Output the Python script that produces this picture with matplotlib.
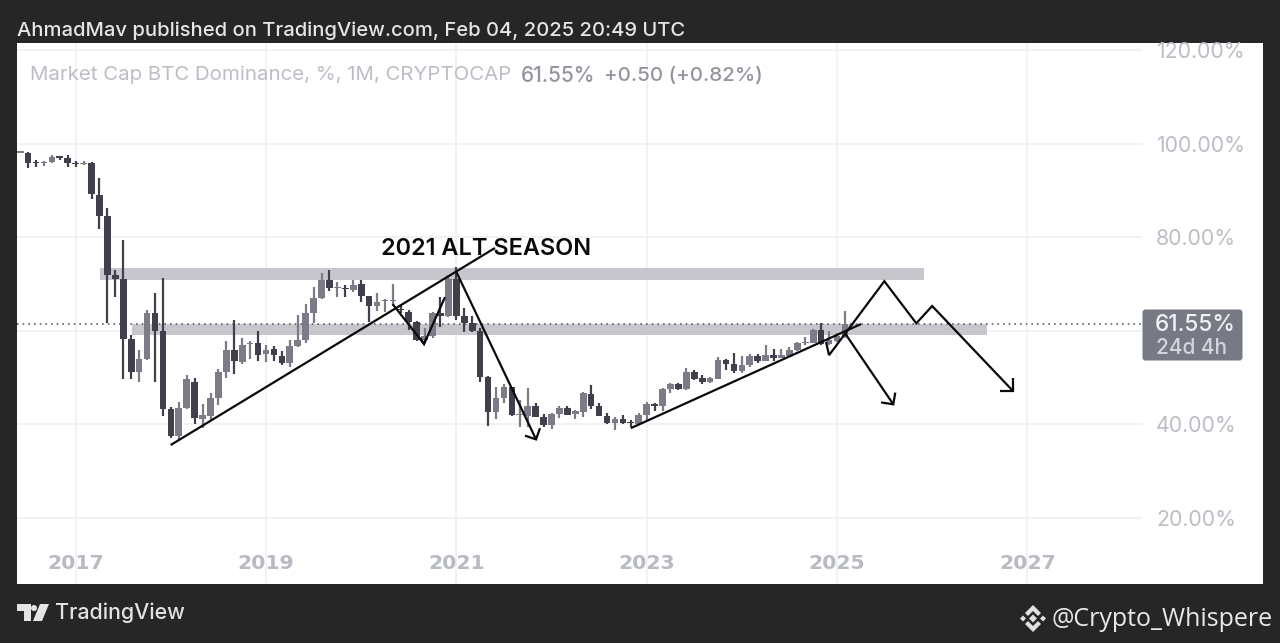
import matplotlib
matplotlib.use("Agg")
import matplotlib.pyplot as plt
import numpy as np
from matplotlib.patches import FancyBboxPatch, Polygon, Rectangle

# Months since Jan 2017
months = list(range(-7, 98))
opens = [98.1,98.1,96.0,95.8,96.1,97.3,97.0,
 95.8,95.6,95.9,89.1,84.5,71.9,71.1,58.3,51.3,53.9,63.8,59.9,
 43.3,37.6,43.6,49.0,41.2,41.9,45.6,51.3,56.0,53.3,57.2,57.5,
 55.0,56.2,54.6,53.2,56.7,58.0,63.9,67.1,70.9,69.2,69.2,68.7,
 70.0,67.4,65.2,66.4,66.3,64.7,64.1,61.9,58.0,58.9,63.9,63.2,
 71.1,63.1,61.6,60.0,50.1,42.7,45.6,47.9,42.0,41.8,44.0,41.6,
 39.9,42.2,43.6,42.2,42.7,46.6,43.9,41.9,40.2,41.1,40.5,40.1,
 42.1,44.4,43.9,47.6,48.6,47.6,51.2,49.9,49.1,49.8,53.8,53.0,
 51.5,52.6,54.6,53.6,54.8,54.2,54.7,55.8,57.3,57.5,60.2,57.2,
 57.9,58.7]
closes = [98.3,95.9,95.8,96.1,97.1,97.0,95.8,
 95.7,95.8,89.3,84.5,72.0,71.1,58.3,51.3,53.9,63.8,59.9,43.2,
 37.6,43.6,49.6,41.3,42.0,45.6,51.3,56.0,53.6,57.0,57.5,54.8,
 56.0,54.8,53.2,56.7,58.0,63.8,67.0,70.9,69.1,69.4,68.9,69.8,
 67.4,65.4,66.2,66.6,66.4,64.4,61.9,58.0,58.9,63.9,63.2,71.1,
 63.2,61.6,60.0,50.2,42.7,45.6,47.9,42.0,42.2,44.0,41.6,39.9,
 42.2,43.6,42.1,42.8,46.8,43.9,41.9,40.2,41.1,40.4,40.3,42.1,
 44.4,43.9,47.6,48.6,47.6,51.1,49.8,49.1,49.9,53.8,53.0,51.5,
 52.6,54.6,53.6,54.8,54.2,54.8,55.9,57.4,57.7,60.2,57.2,58.0,
 58.9,61.55]
highs = [98.5,98.3,96.5,96.3,97.6,97.4,97.5,
 96.3,96.2,96.1,92.6,86.2,73.0,79.3,59.1,55.9,64.4,68.1,71.2,
 43.8,44.8,50.5,50.0,44.3,46.8,51.9,57.9,62.4,58.4,57.9,59.9,
 57.0,56.8,55.7,58.0,63.3,65.7,69.4,72.3,73.1,70.5,69.8,70.9,
 70.9,67.4,68.0,66.9,69.9,65.2,64.4,62.2,60.7,64.1,67.3,71.9,
 73.6,64.8,63.2,60.5,50.4,48.1,48.6,48.1,45.2,47.7,44.6,42.2,
 42.5,43.9,44.0,43.1,46.9,48.4,44.5,42.4,41.5,42.0,40.9,42.4,
 44.7,44.6,47.7,48.9,48.8,52.0,51.6,50.6,50.2,54.3,53.9,55.2,
 54.6,55.0,55.0,57.0,56.1,56.2,56.6,57.7,58.7,60.3,61.6,60.0,
 59.5,64.3]
lows = [98.0,94.7,95.1,95.2,95.8,96.5,95.1,
 94.9,95.4,88.2,81.7,61.6,67.3,49.8,49.6,49.1,53.8,49.0,41.9,
 37.0,36.7,43.4,40.0,39.3,40.9,44.1,50.0,50.8,53.0,53.9,53.5,
 53.3,53.5,52.8,52.3,56.6,57.3,61.7,66.9,68.6,67.3,67.3,68.2,
 66.1,61.9,64.2,64.0,65.2,63.7,60.2,57.9,57.3,58.4,60.9,62.9,
 62.4,59.7,59.8,49.1,39.7,41.2,44.6,41.9,39.5,39.5,41.5,39.5,
 39.1,41.3,42.0,41.2,41.5,43.2,41.9,40.0,38.8,40.1,39.4,39.9,
 40.9,42.9,42.9,46.8,47.3,47.3,49.5,48.6,48.9,49.8,51.6,50.9,
 50.9,52.3,53.1,53.5,53.6,54.1,54.5,55.7,57.0,57.3,57.0,57.0,
 57.7,58.5]
y_ticks = [20, 40, 60, 80, 100, 120]
y_labels = ["20.00%", "40.00%", "", "80.00%", "100.00%", "120.00%"]
year_ticks = [0, 24, 48, 72, 96, 120]
year_labels = ["2017", "2019", "2021", "2023", "2025", "2027"]
last_price = 61.55

# Hand-drawn annotations (month, percent)
zones = [(3.06, 107.0, 70.85, 73.4), (7.1, 114.9, 59.1, 61.45)]
strokes = [
    ([11.98, 52.87], [35.6, 77.7]),
    ([48.0, 58.05], [72.6, 36.8]),
    ([56.66, 58.05, 58.55], [37.6, 36.8, 39.2]),
    ([39.97, 43.92, 46.57], [65.7, 57.2, 67.2]),
    ([43.42, 43.92, 44.3], [58.5, 57.2, 58.7]),
    ([70.0, 99.03], [39.2, 61.45]),
    ([94.62, 95.0, 101.97, 106.0, 108.0, 118.16], [57.6, 54.8, 70.6, 61.6, 65.3, 47.2]),
    ([116.55, 118.16, 118.16], [47.2, 47.2, 49.9]),
    ([97.0, 103.1], [59.5, 44.3]),
    ([101.55, 103.1, 103.35], [44.7, 44.3, 46.8]),
]

DARK = "#262626"
UP = "#7c7c88"
DOWN = "#3f404c"
TXT = "#bcbec5"
plt.rcParams["font.family"] = ["Inter", "DejaVu Sans"]

W, H = 1280, 643
fig = plt.figure(figsize=(W / 100, H / 100), dpi=100, facecolor=DARK)
fig.patches.append(Rectangle((17 / W, 1 - 584 / H), (1263 - 17) / W, (584 - 43) / H,
                             transform=fig.transFigure, fc="white", ec="none", zorder=-5))

ax = fig.add_axes([17 / W, 1 - 584 / H, (1142 - 17) / W, (584 - 43) / H])
ax.set_facecolor("white")
ax.set_xlim(-7.40, 134.46)
ax.set_ylim(5.9, 121.5)
for s in ax.spines.values():
    s.set_visible(False)
ax.grid(True, color="#f0f0f3", lw=1.2, zorder=0)
ax.set_axisbelow(True)
ax.set_yticks(y_ticks, y_labels)
ax.set_xticks(year_ticks, year_labels)
ax.yaxis.tick_right()
ax.tick_params(axis="y", length=0, pad=10, labelsize=15.3, labelcolor=TXT)
ax.tick_params(axis="x", length=0, pad=-21.6)
for lab in ax.get_xticklabels():
    lab.set(fontsize=14.7, fontweight="bold", color="#b9bbc2", family="DejaVu Sans")

for x0, x1, y0, y1 in zones:
    ax.fill_between([x0, x1], y0, y1, color="#c6c6cc", lw=0, zorder=1)
ax.axhline(last_price, color="#5f616b", lw=1.2, ls=(0, (1, 2.4)), zorder=1.5)

colors = [UP if c >= o else DOWN for o, c in zip(opens, closes)]
ax.vlines(months, lows, highs, colors=colors, lw=1.6, zorder=2)
bottoms = [min(o, c) for o, c in zip(opens, closes)]
heights = [max(abs(c - o), 0.25) for o, c in zip(opens, closes)]
ax.bar(months, heights, bottom=bottoms, width=0.84, color=colors, lw=0, zorder=3)

for xs, ys in strokes:
    ax.plot(xs, ys, color="#0a0a0a", lw=1.6, zorder=4, solid_joinstyle="miter", solid_capstyle="butt")

ax.text(38.5, 77.5, "2021 ALT SEASON", fontsize=16.9, fontweight="semibold", color="#0a0a0a",
        va="center", ha="left", zorder=5)

# Overlay in pixel coordinates for chrome
ov = fig.add_axes([0, 0, 1, 1], facecolor="none")
ov.set_xlim(0, W)
ov.set_ylim(H, 0)
ov.axis("off")
ov.text(17, 30.5, "AhmadMav published on TradingView.com, Feb 04, 2025 20:49 UTC",
        fontsize=14.5, color="#e6e6e6", va="center", fontweight="medium")
ov.text(30, 75.5, "Market Cap BTC Dominance, %, 1M, CRYPTOCAP", fontsize=14.7, color="#bcbec5", va="center")
ov.text(521, 75.5, "61.55%", fontsize=15, color="#93959e", va="center", fontweight="medium")
ov.text(604, 75.5, "+0.50 (+0.82%)", fontsize=14.8, color="#93959e", va="center", fontweight="medium")

ov.add_patch(FancyBboxPatch((1144, 311), 97, 48, boxstyle="round,pad=1.5,rounding_size=3",
                            fc="#777985", ec="none"))
ov.text(1155, 325, "61.55%", fontsize=16.3, color="#f2f2f4", va="center", fontweight="medium")
ov.text(1156, 348.5, "24d 4h", fontsize=15, color="#d5d6dc", va="center", fontweight="medium")

# TradingView mark
logo = "#e4e4e4"
ov.add_patch(Polygon([(17, 604), (31, 604), (31, 621), (24, 621), (24, 611), (17, 611)], fc=logo, ec="none"))
ov.add_patch(plt.Circle((34, 608), 3, fc=logo, ec="none"))
ov.add_patch(Polygon([(40, 604), (49, 604), (42, 621), (33, 621)], fc=logo, ec="none"))
ov.text(55.5, 613, "TradingView", fontsize=15.4, color="#e2e2e2", va="center", fontweight="medium")

# Watermark
wm = "#e0e0e0"
def diamond(cx, cy, r, **kw):
    ov.add_patch(Polygon([(cx, cy - r), (cx + r, cy), (cx, cy + r), (cx - r, cy)], fc=wm, ec="none", **kw))
ov.add_patch(Polygon([(1033, 605), (1041, 613), (1038, 616), (1033, 611), (1028, 616), (1025, 613)], fc=wm, ec="none"))
ov.add_patch(Polygon([(1033, 632), (1041, 624), (1038, 621), (1033, 626), (1028, 621), (1025, 624)], fc=wm, ec="none"))
diamond(1033, 618.5, 4)
diamond(1023, 618.5, 3)
diamond(1043, 618.5, 3)
ov.text(1051.5, 619.5, "@Crypto_Whispere", fontsize=18, color="#e8e8e8", va="center",
        family=["Open Sans", "DejaVu Sans"])

fig.savefig("out.png", dpi=100, facecolor=DARK)
